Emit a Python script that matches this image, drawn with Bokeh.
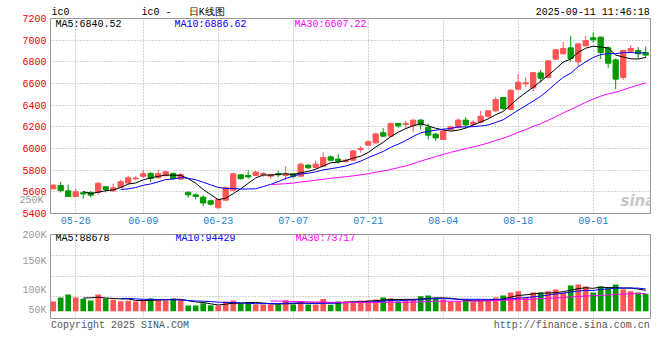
from bokeh.plotting import figure
from bokeh.layouts import column
from bokeh.models import ColumnDataSource, FixedTicker, Grid, Label, LinearAxis, Range1d
from bokeh.embed import file_html
from bokeh.resources import INLINE

# ---------------- data ----------------
date_ticks = [3, 12, 22, 32, 42, 52, 62, 72]
date_labels = ["05-26", "06-09", "06-23", "07-07", "07-21", "08-04", "08-18", "09-01"]
price_ticks = [5400, 5600, 5800, 6000, 6200, 6400, 6600, 6800, 7000, 7200]

opens = [5628, 5659, 5609, 5557, 5591, 5594, 5594, 5647, 5609, 5643,
         5681, 5721, 5743, 5770, 5730, 5749, 5770, 5717, 5597, 5572,
         5551, 5517, 5452, 5523, 5615, 5757, 5751, 5751, 5760, 5745,
         5769, 5751, 5766, 5745, 5846, 5825, 5837, 5923, 5902, 5880,
         5892, 5991, 6031, 6052, 6145, 6114, 6231, 6222, 6210, 6262,
         6194, 6132, 6083, 6175, 6194, 6262, 6225, 6243, 6298, 6348,
         6471, 6360, 6548, 6597, 6560, 6698, 6655, 6825, 6874, 6929,
         6800, 6948, 7022, 7028, 6929, 6818, 6655, 6898, 6905, 6886]
highs = [5668, 5693, 5668, 5628, 5603, 5606, 5693, 5650, 5674, 5712,
         5749, 5743, 5805, 5780, 5805, 5792, 5778, 5775, 5597, 5585,
         5569, 5529, 5529, 5652, 5775, 5760, 5800, 5794, 5782, 5769,
         5794, 5837, 5775, 5868, 5855, 5886, 5966, 5935, 5948, 5908,
         5985, 6022, 6077, 6145, 6188, 6237, 6237, 6255, 6270, 6274,
         6231, 6145, 6169, 6206, 6277, 6292, 6262, 6348, 6354, 6477,
         6477, 6545, 6686, 6655, 6702, 6726, 6812, 6917, 6985, 7040,
         6972, 7040, 7071, 7034, 6942, 6831, 6911, 6954, 6935, 6942]
lows = [5622, 5594, 5553, 5553, 5538, 5547, 5572, 5594, 5600, 5637,
        5668, 5705, 5730, 5690, 5724, 5743, 5714, 5714, 5545, 5529,
        5468, 5474, 5449, 5520, 5612, 5717, 5720, 5745, 5738, 5720,
        5732, 5708, 5723, 5738, 5809, 5812, 5831, 5883, 5862, 5868,
        5886, 5960, 6022, 6046, 6105, 6108, 6188, 6182, 6155, 6175,
        6083, 6071, 6080, 6163, 6185, 6194, 6200, 6231, 6274, 6338,
        6354, 6354, 6538, 6569, 6530, 6609, 6652, 6818, 6868, 6800,
        6757, 6942, 6978, 6825, 6745, 6548, 6634, 6886, 6831, 6837]
closes = [5662, 5612, 5557, 5600, 5581, 5569, 5678, 5622, 5637, 5693,
          5730, 5727, 5767, 5724, 5767, 5786, 5724, 5760, 5572, 5557,
          5498, 5486, 5529, 5637, 5766, 5720, 5738, 5782, 5769, 5760,
          5757, 5766, 5742, 5855, 5822, 5855, 5917, 5892, 5883, 5892,
          5978, 6000, 6062, 6135, 6114, 6231, 6209, 6231, 6262, 6218,
          6123, 6098, 6163, 6200, 6262, 6218, 6243, 6298, 6348, 6452,
          6369, 6538, 6612, 6606, 6700, 6649, 6809, 6911, 6923, 6831,
          6966, 6997, 7003, 6886, 6788, 6640, 6905, 6923, 6874, 6862]
volumes = [41100, 58100, 70900, 58100, 52400, 45300, 70900, 53800, 48200, 42500,
           43900, 41100, 49600, 53800, 49600, 45300, 53800, 49600, 24100, 24100,
           34000, 25500, 24100, 41100, 45300, 33000, 39000, 28000, 28000, 28000,
           28000, 47000, 28000, 43000, 28000, 28000, 52000, 26900, 41100, 41100,
           41100, 45300, 45300, 49600, 58100, 53800, 41100, 49600, 49600, 63800,
           66600, 53800, 49600, 41100, 41100, 49600, 41100, 49600, 45300, 58100,
           66600, 79400, 85000, 58100, 79400, 79400, 85000, 92100, 79400, 109100,
           113400, 104900, 79400, 104900, 99200, 113400, 92100, 85000, 79400, 73700]

ma_price_text = ["MA5:6840.52", "MA10:6886.62", "MA30:6607.22"]
ma_vol_text = ["MA5:88678", "MA10:94429", "MA30:73717"]
vol_label_text = ["50K", "100K", "150K", "200K"]
header_text = ["ic0", "ic0 -", "日K线图", "2025-09-11 11:46:18"]
footer_text = ["Copyright 2025 SINA.COM", "http://finance.sina.com.cn"]
side_text = ["250K"]

# ---------------- helpers ----------------
def sma(vals, w):
    out = []
    for k in range(len(vals)):
        out.append(float("nan") if k < w - 1 else sum(vals[k - w + 1:k + 1]) / w)
    return out

UP = "#ff5555"
DN = "#009900"
MONO = "Liberation Mono"
FS = "10px"
GRID = "#a8a8a8"
n = len(closes)
idx = list(range(n))
cols = [UP if c >= o else DN for o, c in zip(opens, closes)]
src = ColumnDataSource(dict(
    x=idx, h=highs, l=lows,
    top=[max(o, c) for o, c in zip(opens, closes)],
    bot=[min(o, c) for o, c in zip(opens, closes)],
    color=cols, vol=volumes))

XR = Range1d(-0.36, 79.64)

def style_axis(ax, color, standoff):
    ax.major_label_text_color = color
    ax.major_label_text_font = MONO
    ax.major_label_text_font_size = FS
    ax.major_tick_line_color = None
    ax.minor_tick_line_color = None
    ax.major_tick_out = 0
    ax.major_tick_in = 0
    ax.minor_tick_out = 0
    ax.minor_tick_in = 0
    ax.axis_line_color = None
    ax.major_label_standoff = standoff

def text_axis(ticks, labels, color, standoff):
    ax = LinearAxis(ticker=FixedTicker(ticks=ticks),
                    major_label_overrides={t: s for t, s in zip(ticks, labels)})
    style_axis(ax, color, standoff)
    return ax

def lab(p, x, y, t, color="black", size=FS, align="left", font=MONO, style="normal"):
    p.add_layout(Label(x=x, y=y, text=t, text_color=color, text_font_size=size,
                       text_align=align, text_baseline="middle", text_font=font,
                       text_font_style=style))

# ---------------- price panel ----------------
p1 = figure(frame_width=600, frame_height=195, x_range=XR, y_range=Range1d(5400, 7200),
            x_axis_type=None, output_backend="svg", toolbar_location=None,
            min_border_left=50, min_border_right=8, min_border_top=18, min_border_bottom=16,
            background_fill_color="white", border_fill_color="white")
p1.outline_line_color = "#999999"
p1.outline_line_width = 1
ya = p1.yaxis[0]
ya.ticker = FixedTicker(ticks=price_ticks)
style_axis(ya, "#ee0000", 4)
p1.ygrid.ticker = FixedTicker(ticks=price_ticks[1:-1])
p1.ygrid.grid_line_color = GRID
p1.ygrid.grid_line_dash = "1 2"
p1.add_layout(Grid(dimension=0, ticker=FixedTicker(ticks=date_ticks),
                   grid_line_color=GRID, grid_line_dash="1 2"))

# date labels under the price panel
p1.add_layout(text_axis(date_ticks, date_labels, "#1a7fd0", 3), "below")
# header row above the frame, as tick labels of a top axis
head_ticks = [0.973, 13.77, 20.49, 71.95]
p1.add_layout(text_axis(head_ticks, header_text, "#000000", 1), "above")
# grey "250K" beside the price scale
p1.add_layout(text_axis([5520], side_text, "#999999", -24), "left")

p1.segment(x0="x", y0="h", x1="x", y1="l", line_color="color", line_width=1, source=src)
p1.vbar(x="x", width=0.7, top="top", bottom="bot", fill_color="color",
        line_color="color", line_width=1, source=src)
p1.line(idx, sma(closes, 5), line_color="black", line_width=1)
p1.line(idx, sma(closes, 10), line_color="#0000ff", line_width=1)
p1.line(idx, sma(closes, 30), line_color="#ff00ff", line_width=1)

lab(p1, 0.31, 7144, ma_price_text[0], color="black")
lab(p1, 16.17, 7144, ma_price_text[1], color="#0000ff")
lab(p1, 32.17, 7144, ma_price_text[2], color="#ff00ff")
lab(p1, 75.64, 5520, "sina", color="#c8c8c8", size="15px", font="DejaVu Sans", style="bold italic")

# ---------------- volume panel ----------------
vol_ticks = [2975, 86700, 212500, 325975]
p2 = figure(frame_width=600, frame_height=84, x_range=XR, y_range=Range1d(-31025, 325975),
            x_axis_type=None, output_backend="svg", toolbar_location=None,
            min_border_left=50, min_border_right=8, min_border_top=5, min_border_bottom=16,
            background_fill_color="white", border_fill_color="white")
p2.outline_line_color = "#999999"
va = p2.yaxis[0]
va.ticker = FixedTicker(ticks=vol_ticks)
va.major_label_overrides = {t: s for t, s in zip(vol_ticks, vol_label_text)}
style_axis(va, "#999999", 4)
p2.add_layout(Grid(dimension=0, ticker=FixedTicker(ticks=date_ticks),
                   grid_line_color=GRID, grid_line_dash="1 2"))
p2.ygrid.ticker = FixedTicker(ticks=[61200, 148750, 236700])
p2.ygrid.grid_line_color = GRID
p2.ygrid.grid_line_dash = "1 2"
p2.add_layout(text_axis([8.907, 69.15], footer_text, "#555555", 1), "below")

p2.vbar(x="x", width=0.75, top="vol", bottom=0, fill_color="color", line_color=None, source=src)
p2.line(idx, sma(volumes, 5), line_color="black", line_width=1)
p2.line(idx, sma(volumes, 10), line_color="#0000ff", line_width=1)
p2.line(idx, sma(volumes, 30), line_color="#ff00ff", line_width=1)

lab(p2, 0.31, 307700, ma_vol_text[0], color="black")
lab(p2, 16.31, 307700, ma_vol_text[1], color="#0000ff")
lab(p2, 32.31, 307700, ma_vol_text[2], color="#ff00ff")

layout = column(p1, p2, spacing=0)
open("out.html", "w").write(file_html(layout, INLINE))
